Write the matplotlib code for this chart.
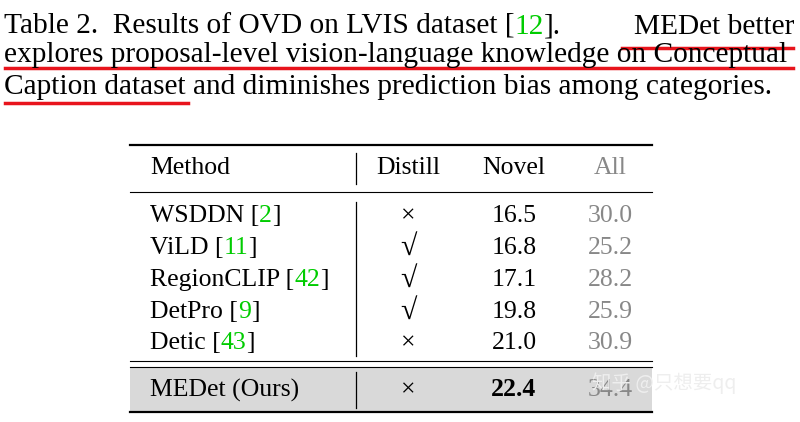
import matplotlib
matplotlib.use("Agg")
import matplotlib.pyplot as plt

plt.rcParams["font.family"] = ["Liberation Serif", "DejaVu Serif"]

caption = [
    [("Table 2.  Results of OVD on LVIS dataset [", "k"), ("12", "#00cc00"), ("].", "k")],
    [("explores proposal-level vision-language knowledge on Conceptual", "k")],
    [("Caption dataset and diminishes prediction bias among categories.", "k")],
]
methods = [("WSDDN [", "2", "]"), ("ViLD [", "11", "]"), ("RegionCLIP [", "42", "]"),
           ("DetPro [", "9", "]"), ("Detic [", "43", "]")]
distill = ["×", "√", "√", "√", "×"]
novel = ["16.5", "16.8", "17.1", "19.8", "21.0"]
all_ap = ["30.0", "25.2", "28.2", "25.9", "30.9"]
ours = ("MEDet (Ours)", "×", "22.4", "34.4")

fig = plt.figure(figsize=(8, 4.22), dpi=100)
ax = fig.add_axes([0, 0, 1, 1])
ax.set_xlim(0, 800)
ax.set_ylim(422, 0)
ax.axis("off")
fig.canvas.draw()
r = fig.canvas.get_renderer()


def pieces(x, y, parts, size):
    for s, c in parts:
        t = ax.text(x, y, s, color=c, fontsize=size, va="center", ha="left")
        x += t.get_window_extent(r).width
    return x


cap_y = [27, 55, 87]
cap_fs = 21.2
for y, parts in zip(cap_y, caption):
    pieces(4, y, parts, cap_fs)
ax.text(794, cap_y[0], "MEDet better", fontsize=cap_fs, va="center", ha="right")

red = "#e8141c"
ax.plot([622, 793], [48, 48], color=red, lw=2.5)
ax.plot([5, 793], [68, 68], color=red, lw=2.5)
ax.plot([5, 188], [103, 103], color=red, lw=2.5)

fs = 18.5
grey = "#888888"
ax.text(150, 168, "Method", fontsize=fs, va="center")
ax.text(408, 168, "Distill", fontsize=fs, va="center", ha="center")
ax.text(514, 168, "Novel", fontsize=fs, va="center", ha="center")
ax.text(610, 168, "All", fontsize=fs, va="center", ha="center", color=grey)

ax.fill_between([130, 652], 368, 412, color="#d9d9d9", lw=0)

for xs, y, lw in [((130, 652), 145, 1.6), ((130, 652), 192, 0.8),
                  ((130, 652), 361, 0.8), ((130, 652), 367, 0.8), ((130, 652), 412, 1.6)]:
    ax.plot(xs, [y, y], color="k", lw=lw)
for y0, y1 in [(153, 184), (202, 356), (372, 408)]:
    ax.plot([356, 356], [y0, y1], color="k", lw=0.9)

row_y = [216, 248, 280, 312, 343]
for y, m, d, n, a in zip(row_y, methods, distill, novel, all_ap):
    pieces(150, y, [(m[0], "k"), (m[1], "#00cc00"), (m[2], "k")], fs)
    ax.text(408, y, d, fontsize=fs + (3 if d == "√" else 0), va="center", ha="center")
    ax.text(514, y, n, fontsize=fs, va="center", ha="center")
    ax.text(610, y, a, fontsize=fs, va="center", ha="center", color=grey)

ax.text(150, 390, ours[0], fontsize=fs, va="center")
ax.text(408, 390, ours[1], fontsize=fs, va="center", ha="center")
ax.text(514, 390, ours[2], fontsize=fs, va="center", ha="center", weight="bold")
ax.text(610, 390, ours[3], fontsize=fs, va="center", ha="center", color=grey)

ax.text(592, 383, "知乎 @只想要qq", fontsize=14, va="center", color="#eeeeee",
        family=["Noto Sans CJK SC", "DejaVu Sans"])

fig.savefig("out.png", dpi=100)
